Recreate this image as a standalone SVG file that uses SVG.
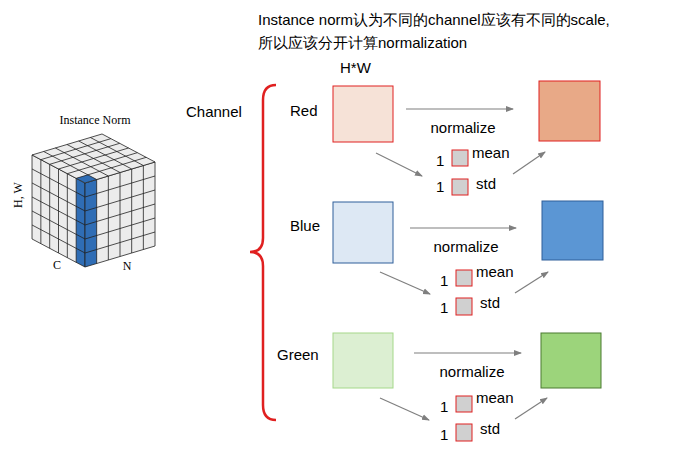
<svg xmlns="http://www.w3.org/2000/svg" width="689" height="456" viewBox="0 0 689 456">
<defs>
<marker id="ah" markerWidth="8" markerHeight="8" refX="7" refY="4" orient="auto" markerUnits="userSpaceOnUse"><path d="M0,1 L8,4 L0,7 Z" fill="#7f7f7f"/></marker>
</defs>
<style>
text{font-family:"Liberation Sans",Arial,sans-serif;fill:#000}
.t{font-size:15px}
.s{font-size:15px}
.ser{font-family:"Liberation Serif","Times New Roman",serif;font-size:12px}
.g{stroke:#222;stroke-width:0.8;fill:none;vector-effect:non-scaling-stroke}
.face{fill:#ececec}
.blue{fill:#2f6db5}
.c{stroke:#7f7f7f;stroke-width:1.2;fill:none;marker-end:url(#ah)}
.sb{fill:#d0d0d0;stroke:#e02020;stroke-width:1}
</style>
<rect width="689" height="456" fill="#fff"/>
<text class="t" x="258" y="25">Instance norm认为不同的channel应该有不同的scale,</text>
<text class="t" x="258" y="48">所以应该分开计算normalization</text>
<g id="cube">
<text class="ser" x="95" y="124" text-anchor="middle">Instance Norm</text>
<text class="ser" x="22" y="195" text-anchor="middle" transform="rotate(-90 22 195)">H, W</text>
<text class="ser" x="57" y="269" text-anchor="middle">C</text>
<text class="ser" x="127" y="270" text-anchor="middle">N</text>
<g transform="matrix(-8.83,-4.67,0,14,85,183)"><rect width="6" height="6" class="face"/><rect width="1" height="6" class="blue"/><path class="g" d="M0,0H6M0,1H6M0,2H6M0,3H6M0,4H6M0,5H6M0,6H6M0,0V6M1,0V6M2,0V6M3,0V6M4,0V6M5,0V6M6,0V6"/></g>
<g transform="matrix(11.67,-3.5,0,14,85,183)"><rect width="6" height="6" class="face"/><rect width="1" height="6" class="blue"/><path class="g" d="M0,0H6M0,1H6M0,2H6M0,3H6M0,4H6M0,5H6M0,6H6M0,0V6M1,0V6M2,0V6M3,0V6M4,0V6M5,0V6M6,0V6"/></g>
<g transform="matrix(-8.83,-4.67,11.67,-3.5,85,183)"><rect width="6" height="6" class="face"/><rect width="1" height="1" class="blue"/><path class="g" d="M0,0H6M0,1H6M0,2H6M0,3H6M0,4H6M0,5H6M0,6H6M0,0V6M1,0V6M2,0V6M3,0V6M4,0V6M5,0V6M6,0V6"/></g>
</g>
<g id="channel">
<text class="t" x="186" y="117">Channel</text>
<path d="M276,85 Q263,85 263,100 L263,238 Q263,252 250,252 Q263,252 263,266 L263,405 Q263,420 276,420" fill="none" stroke="#e02020" stroke-width="2.5"/>
<text class="t" x="340" y="73">H*W</text>
</g>
<g id="red">
<text class="t" x="290" y="116">Red</text>
<rect x="333" y="86" width="60" height="56" fill="#f6e2d7" stroke="#e02020"/>
<rect x="539" y="81" width="61" height="60" fill="#e8a987" stroke="#e02020"/>
<text class="s" x="463" y="133" text-anchor="middle">normalize</text>
<text class="s" x="436" y="166">1</text><rect class="sb" x="452" y="150" width="16" height="16"/><text class="s" x="472" y="158">mean</text>
<text class="s" x="436" y="192">1</text><rect class="sb" x="452" y="179" width="16" height="16"/><text class="s" x="476" y="189">std</text>
</g>
<g id="blue">
<text class="t" x="290" y="231">Blue</text>
<rect x="333" y="202" width="60" height="61" fill="#dde8f4" stroke="#2e5f9a"/>
<rect x="542" y="201" width="61" height="59" fill="#5b96d4" stroke="#2e5f9a"/>
<text class="s" x="466" y="252" text-anchor="middle">normalize</text>
<text class="s" x="440" y="286">1</text><rect class="sb" x="456" y="270" width="16" height="16"/><text class="s" x="476" y="277">mean</text>
<text class="s" x="440" y="313">1</text><rect class="sb" x="456" y="298" width="16" height="17"/><text class="s" x="480" y="308">std</text>
</g>
<g id="green">
<text class="t" x="277" y="360">Green</text>
<rect x="333" y="333" width="60" height="55" fill="#dcefd2" stroke="#a5d88a"/>
<rect x="541" y="333" width="60" height="55" fill="#9cd47b" stroke="#4a7a30"/>
<text class="s" x="472" y="377" text-anchor="middle">normalize</text>
<text class="s" x="440" y="412">1</text><rect class="sb" x="456" y="396" width="16" height="16"/><text class="s" x="476" y="403">mean</text>
<text class="s" x="440" y="440">1</text><rect class="sb" x="456" y="424" width="16" height="17"/><text class="s" x="480" y="434">std</text>
</g>
<g id="connectors">
<path class="c" d="M406,109H513"/>
<path class="c" d="M376,153L422,176"/>
<path class="c" d="M513,174L545,152"/>
<path class="c" d="M410,228H516"/>
<path class="c" d="M380,272L430,294"/>
<path class="c" d="M515,293L548,272"/>
<path class="c" d="M414,353H521"/>
<path class="c" d="M380,398L429,420"/>
<path class="c" d="M515,419L547,398"/>
</g>
</svg>
